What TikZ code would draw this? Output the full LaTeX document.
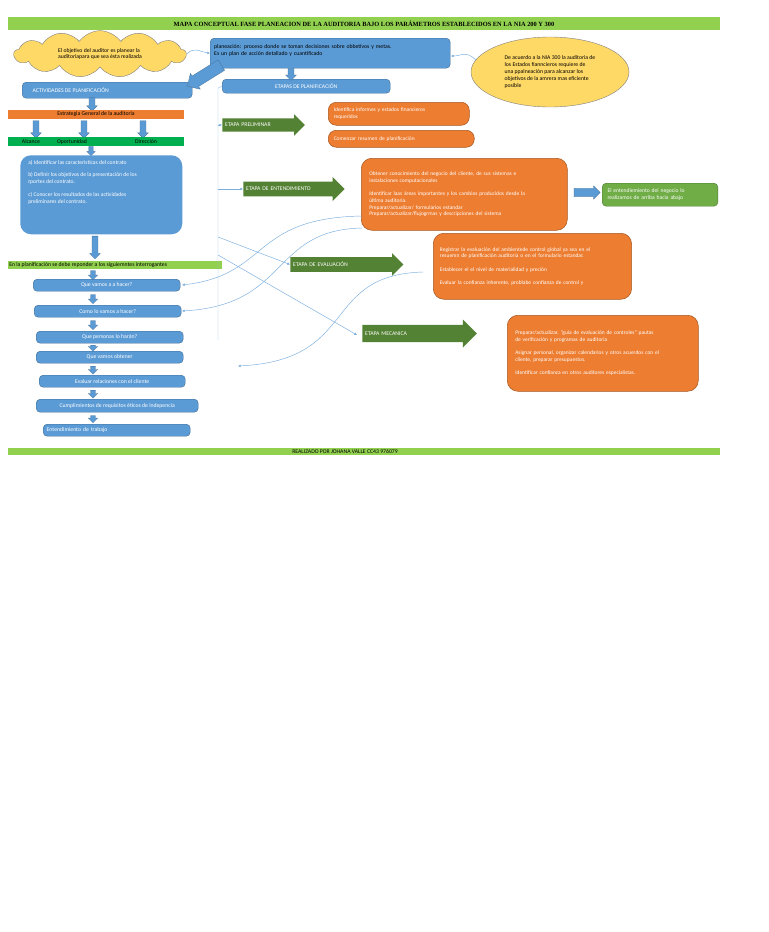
\documentclass[tikz,border=0pt]{standalone}
\usepackage{fontspec}
\setmainfont{Carlito}
\newfontfamily\titlefont{Liberation Serif}
\usetikzlibrary{shapes.symbols,shapes.arrows,shapes.geometric,arrows.meta}
\definecolor{lgreen}{HTML}{92D050}
\definecolor{dgreen}{HTML}{00B050}
\definecolor{agreen}{HTML}{548235}
\definecolor{mgreen}{HTML}{70AD47}
\definecolor{bblue}{HTML}{5B9BD5}
\definecolor{oor}{HTML}{ED7D31}
\definecolor{yel}{HTML}{FFD966}
\tikzset{
 bx/.style={rounded corners=3pt,fill=bblue,draw=bblue!70!black,line width=0.3pt,text=white,font=\fontsize{4.3}{5}\selectfont},
 ob/.style={rounded corners=6pt,fill=oor,draw=oor!70!black,line width=0.4pt,text=white,font=\fontsize{4.1}{5}\selectfont,align=left,anchor=north west,inner sep=0pt},
 bar/.style={font=\fontsize{4.3}{5}\selectfont},
 garrow/.style={single arrow,fill=agreen,draw=none,single arrow head extend=3pt,text=white,font=\fontsize{4.3}{5}\selectfont,inner xsep=2pt,anchor=west,minimum height=0pt},
 barrow/.style={single arrow,fill=bblue,draw=bblue!70!black,line width=0.2pt,single arrow head extend=1.6pt,inner xsep=0pt,inner ysep=1.8pt,font=\fontsize{1}{1}\selectfont},
 dar/.style={barrow,rotate=-90},
 thin/.style={draw=bblue!80,line width=0.35pt,-{Latex[length=2pt,width=2pt]}},
}
\begin{document}
\begin{tikzpicture}[x=0.75pt,y=-0.75pt]
\useasboundingbox[fill=white] (0,0) rectangle (768,932);
% title
\fill[lgreen] (8,17) rectangle (720,30);
\node (title) at (364,23.5) {\titlefont\bfseries\fontsize{4.8}{5}\selectfont MAPA CONCEPTUAL FASE PLANEACION DE LA AUDITORIA BAJO LOS PARÁMETROS ESTABLECIDOS EN LA NIA 200 Y 300};
% cloud
\node[cloud,cloud puffs=13,cloud puff arc=110,aspect=3.6,fill=yel,draw=gray,line width=0.3pt,minimum width=172pt*0.75,minimum height=44pt*0.75,inner sep=0pt,align=left,font=\fontsize{4.3}{5}\selectfont] (cloud) at (100,54) {El objetivo del auditor es planear la\\auditoriapara que sea ésta realizada};
% planeacion
\node[bx,anchor=north west,minimum width=240*0.75pt,minimum height=30*0.75pt,text width=232*0.75pt,align=left,text=black,inner xsep=3pt,inner ysep=3pt,text depth=10pt] (plan) at (210,38) {planeación: proceso donde se toman decisiones sobre obbetivos y metas.\\Es un plan de acción detallado y cuantificado};
% ellipse
\node[ellipse,fill=yel,draw=gray,line width=0.3pt,minimum width=158*0.75pt,minimum height=70*0.75pt,align=left,font=\fontsize{4.3}{5.1}\selectfont,inner sep=0pt] (ell) at (550,72) {De acuerdo a la NIA 300 la auditoria de\\los Estados fianncieros requiere de\\una ppalneación para alcanzar los\\objetivos de la amrera mas eficiente\\posible};
\draw[thin] (cloud.east) .. controls (195,46) and (200,52) .. (plan.west);
\draw[thin] (476,60) .. controls (465,50) and (462,56) .. (451,56);
% actividades, etapas
\node[bx,anchor=north west,minimum width=170*0.75pt,minimum height=16*0.75pt,inner sep=0pt] (act) at (22,82) {};
\node[anchor=west,text=white,font=\fontsize{4.3}{5}\selectfont] at (28,90) {ACTIVIDADES DE PLANIFICACIÓN};
\node[bx,anchor=north west,minimum width=168*0.75pt,minimum height=14*0.75pt,inner sep=0pt] (etp) at (222,79) {ETAPAS DE PLANIFICACIÓN};
% block arrows from plan
\node[barrow,inner ysep=3pt,minimum width=14pt,minimum height=30pt,rotate=212] (a1) at (207,74) {};
\node[dar,minimum height=9pt,minimum width=8pt] (a2) at (291,73) {};
% strategy bars
\node[dar,minimum height=10pt,minimum width=8pt] (a3) at (92,103) {};
\fill[oor] (8,110) rectangle (184,119);
\node[bar] (estr) at (96,114.5) {Estrategia General de la auditoria};
\node[dar,minimum height=13pt,minimum width=8pt] at (36,128) {};
\node[dar,minimum height=13pt,minimum width=8pt] at (84,128) {};
\node[dar,minimum height=13pt,minimum width=8pt] at (143,128) {};
\fill[dgreen] (8,137) rectangle (184,146);
\node[bar] at (31,141.5) {Alcance};
\node[bar] at (72,141.5) {Oportunidad};
\node[bar] at (146,141.5) {Dirección};
\node[dar,minimum height=7pt,minimum width=6pt,inner ysep=1.5pt] at (91,150) {};
% a) box
\node[anchor=north west,minimum width=162*0.75pt,minimum height=79*0.75pt,fill=bblue,inner sep=0pt,
 rounded corners=8pt] (abox) at (20,155) {};
\node[anchor=north west,text=white,align=left,font=\fontsize{4.2}{5.3}\selectfont,inner sep=0pt] at (28,160) {a) Identificar las caracteristicas del contrato\\[4pt]b) Definir los objetivos de la presentación de los\\rportes del contrato.\\[4pt]c) Conocer los resultados de las actividades\\preliminares del contrato.};
\node[dar,minimum height=17pt,minimum width=8pt] at (95,246) {};
\fill[lgreen] (8,261) rectangle (222,269);
\node[bar,anchor=west,inner sep=0pt] (pl) at (9,265) {En la planificación se debe reponder a los siguiemntes interrogantes};
% questions
\node[bx,anchor=north west,minimum width=147*0.75pt,minimum height=12*0.75pt,inner sep=0pt] (q1) at (33,279) {Que vamos a a hacer?};
\node[bx,anchor=north west,minimum width=147*0.75pt,minimum height=12*0.75pt,inner sep=0pt] (q2) at (34,305) {Como lo vamos a hacer?};
\node[bx,anchor=north west,minimum width=147*0.75pt,minimum height=12*0.75pt,inner sep=0pt] (q3) at (36,331) {Que personas lo harán?};
\node[bx,anchor=north west,minimum width=147*0.75pt,minimum height=12*0.75pt,inner sep=0pt] (q4) at (36,351) {Que vamos obtener};
\node[bx,anchor=north west,minimum width=146*0.75pt,minimum height=12*0.75pt,inner sep=0pt] (q5) at (39,375) {Evaluar relaciones con el cliente};
\node[bx,anchor=north west,minimum width=162*0.75pt,minimum height=13*0.75pt,inner sep=0pt] (q6) at (36,399) {Cumplimientos de requisitos éticos de indepencia};
\node[bx,anchor=north west,minimum width=147*0.75pt,minimum height=12*0.75pt,inner sep=0pt,text width=140*0.75pt,align=left] (q7) at (43,424) {Entendimiento de trabajo};
\foreach \y/\h in {274/9,298/9,324/9,347/6,369/8,393/8,418/7}{\node[dar,minimum height=\h*0.75pt,minimum width=7pt,inner ysep=1.6pt] at (93,\y) {};}
% bottom bar
\fill[lgreen] (8,448) rectangle (720,455);
\node[font=\fontsize{4.3}{5}\selectfont] (foot) at (345,451.5) {REALIZADO POR JOHANA VALLE CC43 976079};
% tree lines
\coordinate (t0) at (218,88);
\coordinate (t1) at (218,340);
\draw[draw=bblue!60,line width=0.35pt] (etp.west) -- (t0) -- (t1);
% green arrows
\node[garrow,minimum width=16pt,text width=70*0.75pt] (e1) at (222,125) {ETAPA PRELIMINAR};
\node[garrow,minimum width=18pt,text width=88*0.75pt] (e2) at (243,189) {ETAPA DE ENTENDIMIENTO};
\node[garrow,minimum width=17pt,text width=100*0.75pt] (e3) at (290,264.5) {ETAPA DE EVALUACIÓN};
\node[garrow,minimum width=21pt,text width=100*0.75pt] (e4) at (362,333.5) {ETAPA MECANICA};
\draw[thin] (218,125) -- (e1.west);
\draw[thin] (218,189) -- (e2.west);
\draw[thin] (218,237) -- (e3.west);
\draw[thin] (218,255) -- (357,335);
% orange boxes
\node[ob,minimum width=141*0.75pt,minimum height=23*0.75pt,text width=130*0.75pt,inner xsep=3pt,inner ysep=2pt] (o1) at (328,102) {Identifica informes y estados financieros\\requeridos};
\node[ob,minimum width=146*0.75pt,minimum height=17*0.75pt,text width=135*0.75pt,inner xsep=3pt,inner ysep=2pt] (o2) at (328,130) {Comenzar resumen de planificación};
\node[ob,minimum width=206*0.75pt,minimum height=72*0.75pt,text width=190*0.75pt,inner xsep=5pt,inner ysep=4pt,rounded corners=8pt] (o3) at (361,158) {Obtener conocimiento del negocio del cliente, de sus sistemas e\\instalaciones computacionales\\[5pt]Identificar laas áreas importantes y los cambios producidos desde la\\última auditoria.\\Preparar/actualizar/ formularios estandar\\Preparar/actualizar/flujogrmas y descripciones del sistema};
\node[ob,minimum width=197*0.75pt,minimum height=66*0.75pt,text width=185*0.75pt,inner xsep=5pt,inner ysep=4pt,rounded corners=8pt] (o4) at (433,233) {Registrar la evaluación del ambientede control global ya sea en el\\resuemn de planificación auditoria o en el formulario estandar.\\[5pt]Establecer el el nivel de materialidad y preción\\[5pt]Evaluar la confianza inherente, problabe confianza de control y};
\node[ob,minimum width=187*0.75pt,minimum height=76*0.75pt,text width=175*0.75pt,inner xsep=6pt,inner ysep=6pt,rounded corners=8pt] (o5) at (507,315) {Preparar/actualizar, "guia de evaluación de controles" pautas\\de verificación y programas de auditoria\\[5pt]Asignar personal, organizar calendarios y otros acuerdos con el\\cliente, preparar presupuestos.\\[5pt]Identificar confianza en otros auditores especialistas.};
% blue arrow + green box
\node[barrow,minimum height=26*0.75pt,minimum width=13*0.75pt,inner ysep=2.8pt] (ba) at (585,192.5) {};
\node[fill=mgreen,draw=mgreen!70!black,line width=0.3pt,rounded corners=3pt,anchor=north west,minimum width=114*0.75pt,minimum height=23*0.75pt,text width=105*0.75pt,align=left,inner xsep=4pt,text=white,font=\fontsize{4.2}{5.2}\selectfont] (gb) at (602,183) {El entendiemiento del negocio lo\\realizamos de arriba hacia abajo};
% curved connectors
\draw[thin] (362,216) .. controls (250,218) and (270,275) .. (182,285);
\draw[thin] (362,228) .. controls (270,230) and (290,305) .. (182,311);
\draw[thin] (423,272) .. controls (320,275) and (360,360) .. (238,366);
\end{tikzpicture}
\end{document}
